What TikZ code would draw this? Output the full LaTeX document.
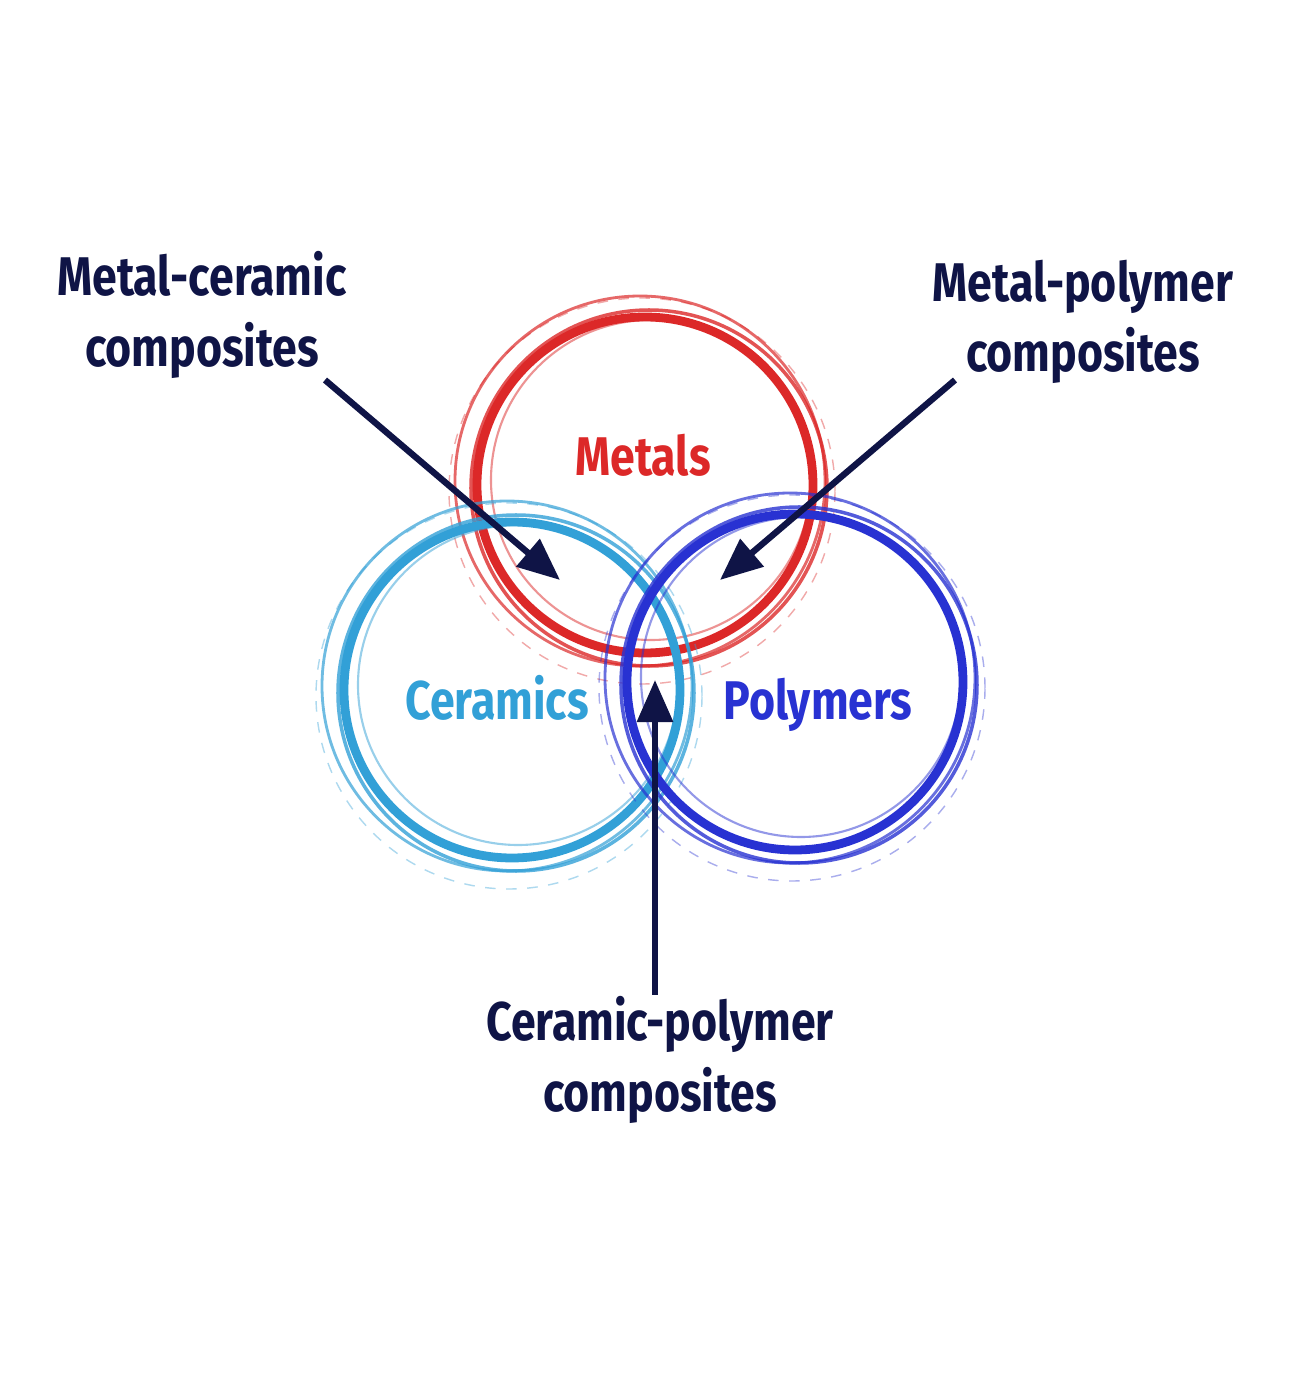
\documentclass[tikz,border=0pt]{standalone}
\usepackage{fontspec}
\setmainfont{Fira Sans}
\usetikzlibrary{arrows.meta,calc}
\definecolor{cred}{RGB}{220,40,40}
\definecolor{ccer}{RGB}{50,160,215}
\definecolor{cpol}{RGB}{40,50,210}
\definecolor{navy}{RGB}{15,20,70}
\tikzset{
 lab/.style={text=navy,font=\fontsize{15.5}{20}\selectfont\bfseries,align=center,xscale=0.82},
 cname/.style={font=\fontsize{15.5}{20}\selectfont\bfseries,xscale=0.82},
 arr/.style={navy,line width=1.8pt,-{Triangle[length=12pt,width=10pt]}}
}
\newcommand{\brushring}[4]{%
 \draw[#1,line width=2.5pt] (#2,#3) circle (#4);
 \draw[#1,line width=1pt,opacity=0.8] ($(#2,#3)+(0.04,-0.03)$) circle (#4+0.1);
 \draw[#1,line width=0.8pt,opacity=0.7] ($(#2,#3)+(-0.05,0.04)$) circle (#4+0.17);
 \draw[#1,line width=0.6pt,opacity=0.5] ($(#2,#3)+(0.06,0.05)$) circle (#4-0.08);
 \draw[#1,line width=0.4pt,opacity=0.4,dashed] ($(#2,#3)+(-0.03,-0.06)$) circle (#4+0.25);
}
\begin{document}
\begin{tikzpicture}
\useasboundingbox (0,0) rectangle (13,13.9);
\fill[white] (0,0) rectangle (13,13.9);
\brushring{cred}{6.45}{9.05}{1.68}
\brushring{ccer}{5.12}{7.0}{1.68}
\brushring{cpol}{7.95}{7.08}{1.68}
\node[cname,text=cred] (met) at (6.43,9.35) {Metals};
\node[cname,text=ccer] (cer) at (4.97,6.92) {Ceramics};
\node[cname,text=cpol] (pol) at (8.18,6.85) {Polymers};
\node[lab] (mc) at (2.02,10.75) {Metal-ceramic\\composites};
\node[lab] (mp) at (10.83,10.68) {Metal-polymer\\composites};
\node[lab] (cp) at (6.6,3.3) {Ceramic-polymer\\composites};
\coordinate (mcs) at (3.25,10.1);
\coordinate (mce) at (5.6,8.1);
\coordinate (mps) at (9.55,10.1);
\coordinate (mpe) at (7.2,8.1);
\coordinate (cps) at (6.55,3.95);
\coordinate (cpe) at (6.55,7.1);
\draw[arr] (mcs) -- (mce);
\draw[arr] (mps) -- (mpe);
\draw[arr] (cps) -- (cpe);
\end{tikzpicture}
\end{document}
